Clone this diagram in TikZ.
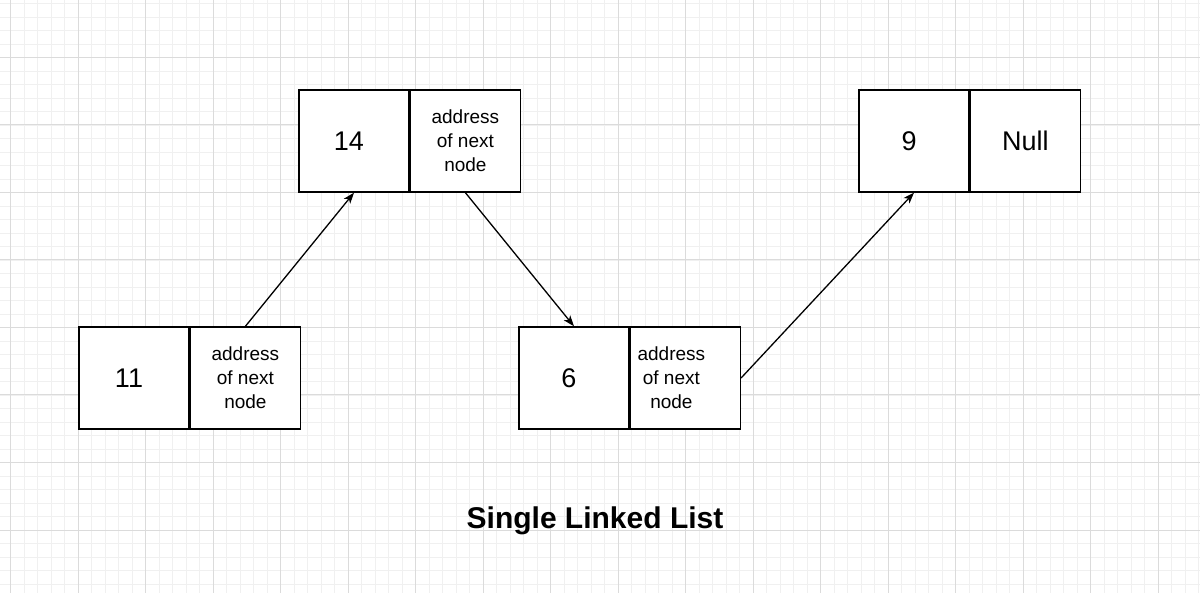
\documentclass[tikz,border=0pt]{standalone}
\usepackage{fontspec}
\setmainfont{Liberation Sans}
\usetikzlibrary{positioning,arrows.meta}
\begin{document}
\begin{tikzpicture}[%
    x=1pt, y=-1pt,
    line width=1.4pt,
    databox/.style={
        draw=black, fill=white, minimum width=110pt, minimum height=102pt,
        inner sep=0pt, font=\fontsize{27}{30}\selectfont
    },
    linkbox/.style={
        databox, align=center, font=\fontsize{19}{24}\selectfont
    },
    link/.style={-{Stealth[length=11pt,width=8pt,inset=3pt]}, line width=1.3pt}
]
    % Page size and background grid.
    \useasboundingbox (0,0) rectangle (1200,593);
    \fill[white] (0,0) rectangle (1200,593);
    \foreach \i in {0,...,90} {
        \draw[gray!12, line width=0.7pt] ({-2.8+13.5*\i},0) -- ++(0,593);
        \draw[gray!12, line width=0.7pt] (0,{3.5+13.5*\i}) -- ++(1200,0);
    }
    \foreach \i in {0,...,18} {
        \draw[gray!28, line width=1pt] ({10.7+67.5*\i},0) -- ++(0,593);
        \draw[gray!28, line width=1pt] (0,{-10+67.5*\i}) -- ++(1200,0);
    }

    % The four list nodes.
    \node[databox] (d11) at (134,378) {\hspace{-10pt}11};
    \node[linkbox, right=0pt of d11] (n11) {address\\of next\\node};

    \node[databox] (d14) at (354,141) {\hspace{-10pt}14};
    \node[linkbox, right=0pt of d14] (n14) {address\\of next\\node};

    \node[databox] (d6) at (574,378) {\hspace{-10pt}6};
    \node[linkbox, right=0pt of d6] (n6) {\hspace{-28pt}address\\\hspace{-28pt}of next\\\hspace{-28pt}node};

    \node[databox] (d9) at (914,141) {\hspace{-10pt}9};
    \node[databox, right=0pt of d9] (n9) {Null};

    % Links.
    \draw[link] (n11.north) -- (d14.south);
    \draw[link] (n14.south) -- (d6.north);
    \draw[link] (n6.east) -- (d9.south);

    \node[font=\fontsize{30}{34}\selectfont\bfseries] (title) at (595,521) {Single Linked List};
\end{tikzpicture}
\end{document}
